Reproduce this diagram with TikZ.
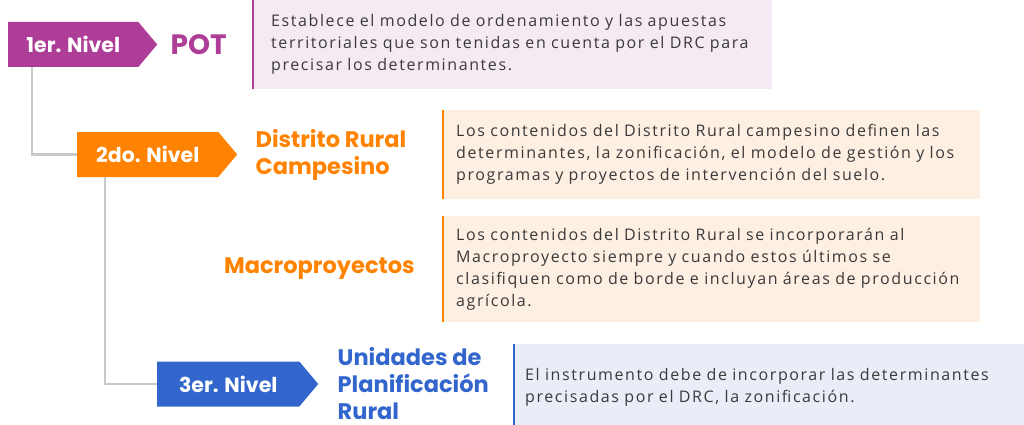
\documentclass[tikz,border=0pt]{standalone}
\usepackage{fontspec}
\setmainfont{Open Sans}
\newfontfamily\headfont{Poppins}
\newfontfamily\bodyfont[LetterSpace=10]{Open Sans}
\usetikzlibrary{positioning,shapes.symbols}

\definecolor{purp}{HTML}{AD3D96}
\definecolor{purpbg}{HTML}{F5EAF4}
\definecolor{oran}{HTML}{FF8300}
\definecolor{oranbg}{HTML}{FEEFE3}
\definecolor{blu}{HTML}{3366CC}
\definecolor{blubg}{HTML}{E9EDF8}
\definecolor{linegray}{HTML}{C8C8C8}
\definecolor{bodytext}{HTML}{3A3A3A}

\tikzset{
  tag/.style={signal, signal to=east, signal pointer angle=100, draw=none,
    fill=#1, text=white, minimum height=45pt, inner sep=0pt,
    font=\headfont\fontsize{20.5}{22}\selectfont\bfseries},
  head/.style={text=#1, align=left, inner sep=0pt, anchor=west,
    font=\headfont\fontsize{22.5}{27}\selectfont\bfseries},
  infobox/.style={fill=#1, anchor=north west, align=left, inner ysep=0pt,
    text=bodytext, font=\bodyfont\fontsize{16}{22}\selectfont},
  link/.style={draw=linegray, line width=2.5pt}
}

\begin{document}
\begin{tikzpicture}[x=1pt,y=-1pt]
    \useasboundingbox (0,0) rectangle (1024,425);

    % levels
    \node[tag=purp, minimum width=149pt, anchor=west] (tag1) at (8,44.5) {1er. Nivel\hspace{14pt}};
    \node[tag=oran, minimum width=160pt, anchor=west] (tag2) at (77,154.5) {2do. Nivel\hspace{14pt}};
    \node[tag=blu, minimum width=161pt, anchor=west] (tag3) at (157,384) {3er. Nivel\hspace{14pt}};

    % titles
    \node[head=purp, font=\headfont\fontsize{28}{30}\selectfont\bfseries, right=13pt of tag1] (pot) {POT};
    \node[head=oran, right=18pt of tag2] (drc) {Distrito Rural\\Campesino};
    \node[head=oran] (macro) at (224,269) {Macroproyectos};
    \node[head=blu, right=19pt of tag3] (upr) {Unidades de\\Planificación\\Rural};

    % description boxes
    \node[infobox=purpbg, minimum height=89pt, text width=483pt, inner xsep=18pt] (box1) at (253,0)
        {Establece el modelo de ordenamiento y las apuestas\\territoriales que son tenidas en cuenta por el DRC para\\precisar los determinantes.};
    \node[infobox=oranbg, minimum height=89pt, text width=511pt, inner xsep=13pt] (box2) at (443,110)
        {Los contenidos del Distrito Rural campesino definen las\\determinantes, la zonificación, el modelo de gestión y los\\programas y proyectos de intervención del suelo.};
    \node[infobox=oranbg, minimum height=106pt, text width=511pt, inner xsep=13pt] (box3) at (443,216)
        {Los contenidos del Distrito Rural se incorporarán al\\Macroproyecto siempre y cuando estos últimos se\\clasifiquen como de borde e incluyan áreas de producción\\agrícola.};
    \node[infobox=blubg, minimum height=86pt, text width=500pt, inner xsep=11pt] (box4) at (514,344)
        {El instrumento debe de incorporar las determinantes\\precisadas por el DRC, la zonificación.};

    % left bars of the boxes
    \draw[purp, line width=2.5pt] (box1.north west) -- (box1.south west);
    \draw[oran, line width=2.5pt] (box2.north west) -- (box2.south west);
    \draw[oran, line width=2.5pt] (box3.north west) -- (box3.south west);
    \draw[blu, line width=2.5pt] (box4.north west) -- (box4.south west);

    % hierarchy lines
    \draw[link] ([xshift=24pt]tag1.south west) |- (tag2.west);
    \draw[link] ([xshift=28pt]tag2.south west) |- (tag3.west);
\end{tikzpicture}
\end{document}
